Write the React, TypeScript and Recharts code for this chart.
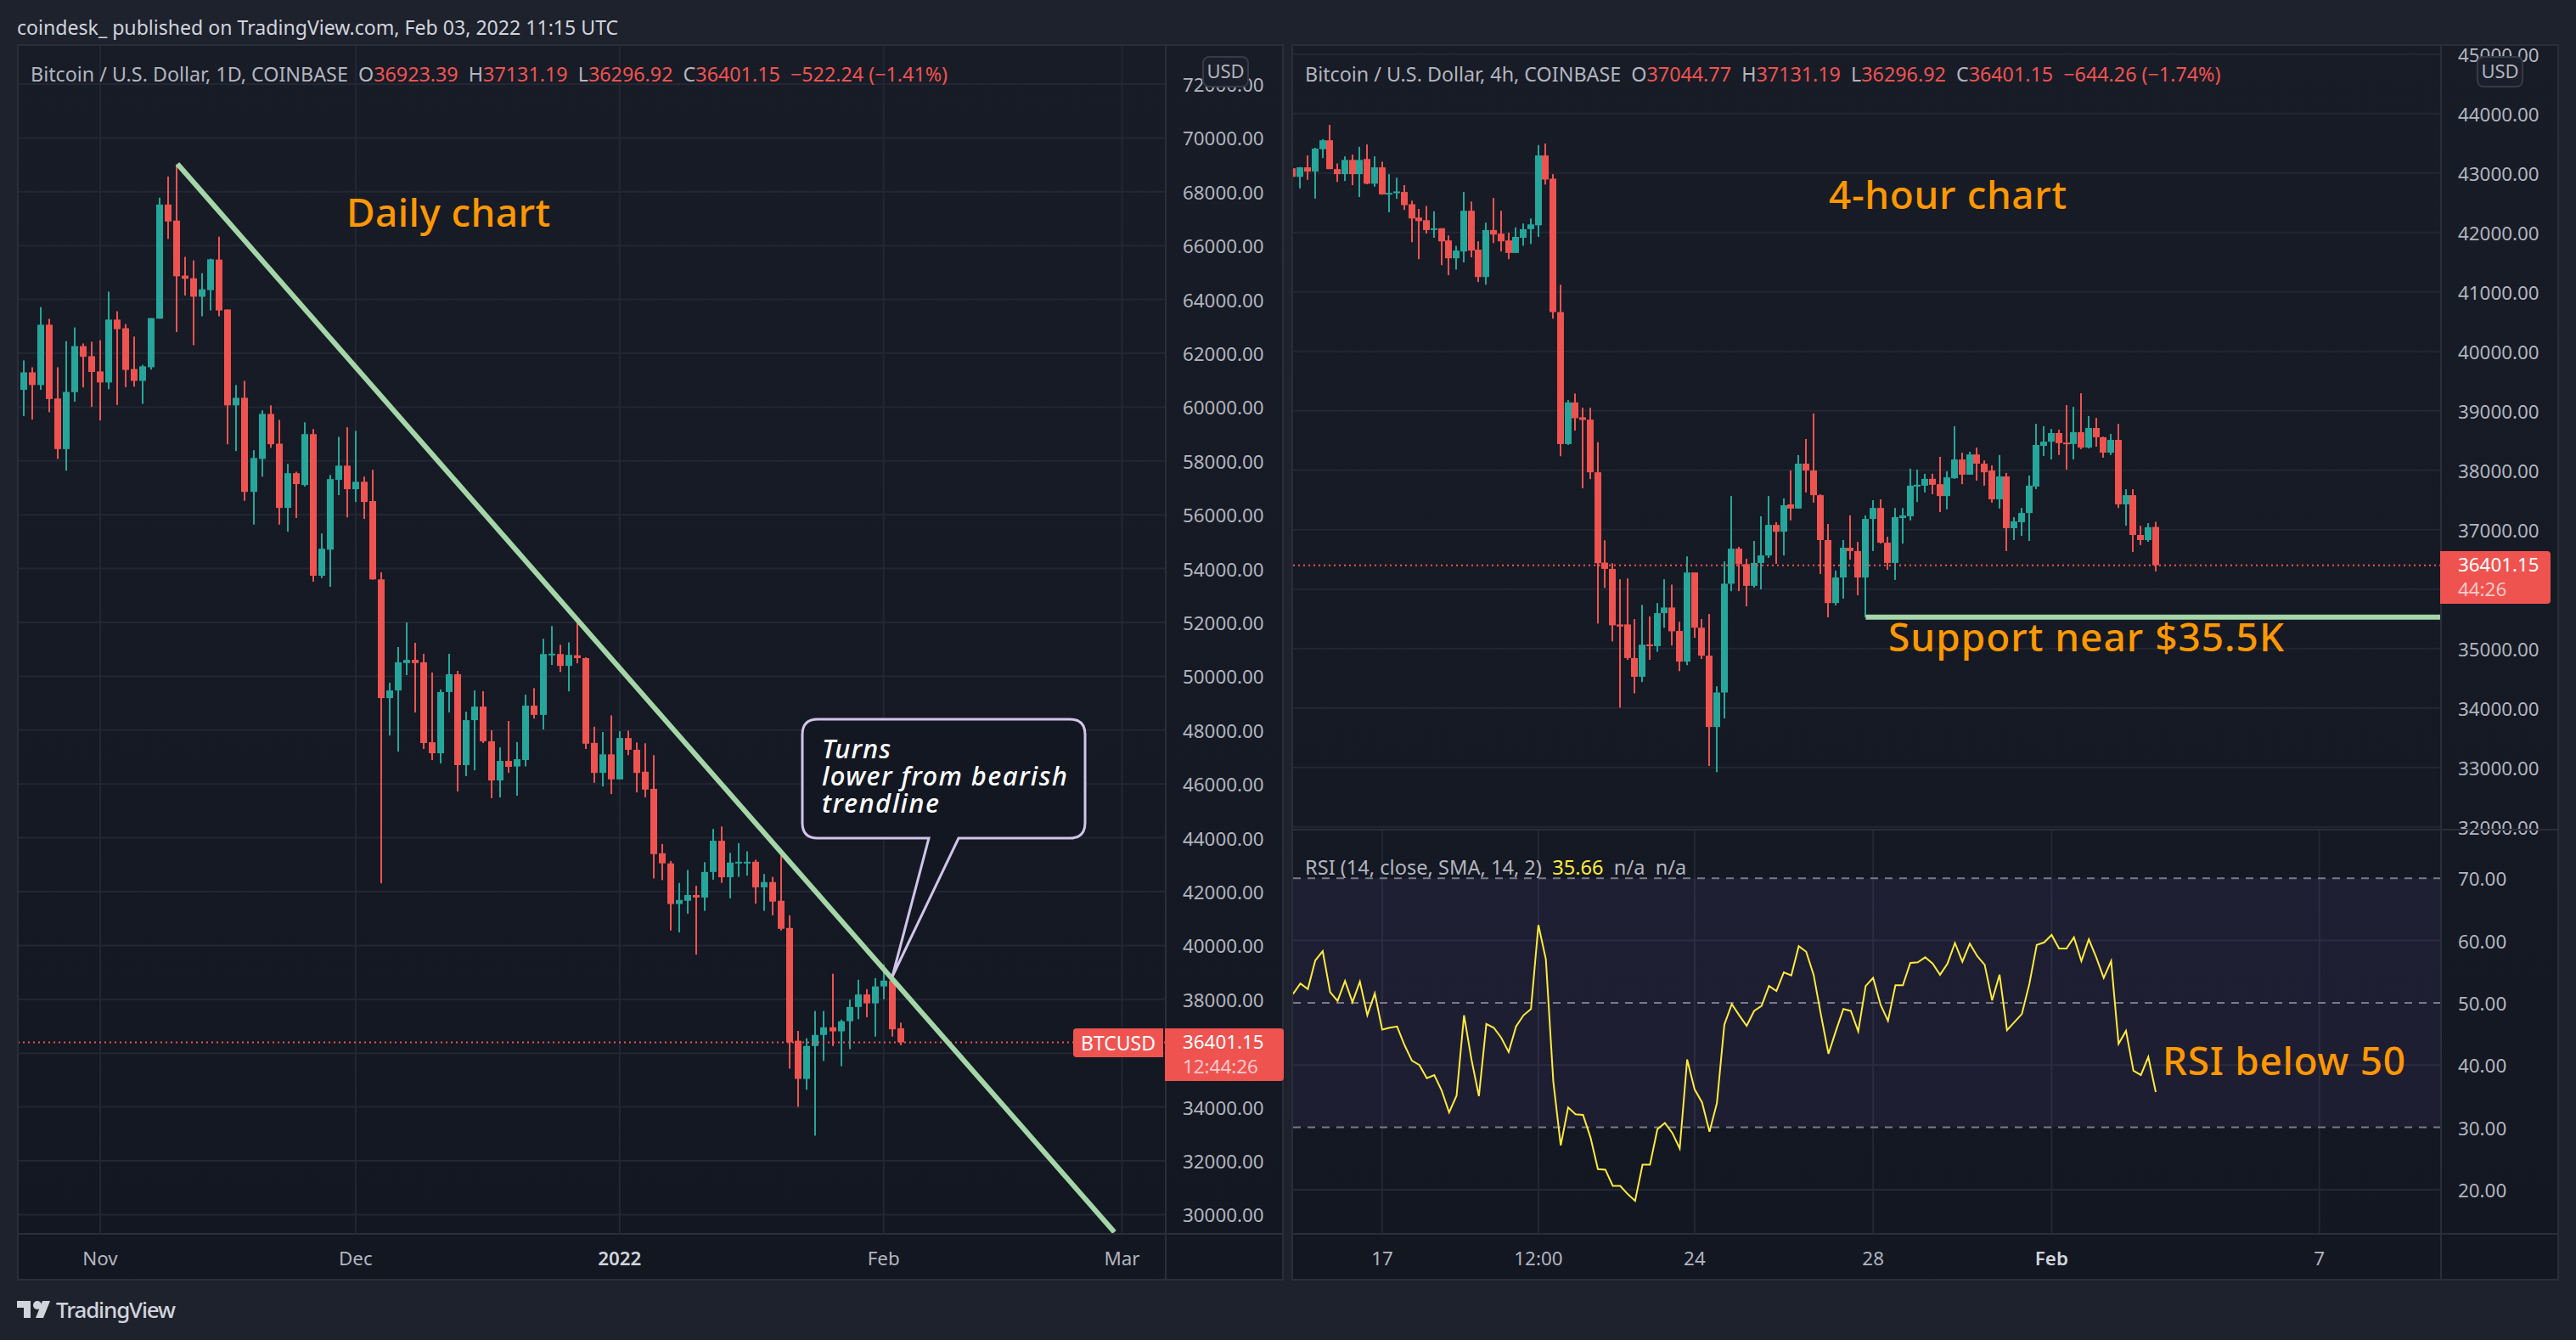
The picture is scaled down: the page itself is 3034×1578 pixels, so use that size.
import { Bar, CartesianGrid, ComposedChart, Line, ReferenceArea, ReferenceLine, XAxis, YAxis } from 'recharts';

const FONT = '"Noto Sans", sans-serif';
const UP = '#26a69a';
const DOWN = '#ef5350';
const GRID = '#232733';
const BORDER = '#2a2e39';
const AXIS_TEXT = '#b2b5be';
const GREEN_LINE = '#a5d6a7';
const ORANGE = '#ff9800';

// Daily candles, first bar is Oct 22 (day -10 from Nov 1)
const dailyFirstDay = -10;
const dailyOpen = [
  62210, 60640, 61290, 60820, 63060, 60320, 58440, 60555, 62265, 61890,
  61325, 60915, 63250, 62930, 61415, 60975, 61480, 63285, 67525, 66930,
  64885, 64785, 64100, 64345, 65480, 63625, 60065, 60345, 56850, 58075,
  59745, 58640, 56255, 57545, 57105, 58995, 53735, 54705, 57295, 57825,
  56950, 57225, 56510, 53600, 49190, 49475, 50490, 50610, 50520, 47550,
  47140, 49415, 50075, 46700, 48370, 48875, 47585, 46130, 46855, 46650,
  46890, 48910, 48565, 50780, 50825, 50385, 50780, 50675, 47525, 46410,
  47100, 46170, 47705, 47270, 46455, 45820, 43425, 43050, 41540, 41660,
  41875, 41780, 42730, 43890, 42535, 43050, 43065, 43110, 42160, 42355,
  41660, 40650, 36460, 35045, 36265, 36675, 36960, 36810, 37185, 37715,
  38180, 37850, 38480, 38695, 36923.39,
];
const dailyHigh = [
  62210, 61735, 61480, 63715, 63280, 61480, 62450, 62960, 62365, 62430,
  62485, 64290, 63560, 63085, 62620, 61570, 63305, 67780, 68565, 69015,
  65580, 65450, 64975, 65515, 66330, 63625, 60820, 60975, 58400, 59880,
  60065, 59525, 57890, 57600, 59435, 59185, 55305, 57480, 58895, 59250,
  59115, 57415, 57670, 53865, 49760, 51085, 52000, 51245, 50835, 50140,
  49510, 50835, 50200, 48685, 49475, 49445, 47995, 47360, 48340, 47555,
  49315, 49560, 51395, 51865, 51170, 51260, 52075, 50705, 48125, 47930,
  48550, 47960, 47975, 47540, 47510, 47070, 43770, 43140, 42325, 42805,
  42220, 43095, 44330, 44420, 43440, 43800, 43500, 43185, 42655, 42550,
  43485, 41120, 36825, 36555, 37565, 37565, 38950, 37245, 37985, 38725,
  38375, 38785, 39295, 38890, 37131.19,
];
const dailyLow = [
  60640, 59670, 59535, 60640, 59810, 58075, 57635, 60200, 60730, 60010,
  59505, 60665, 60080, 60740, 60760, 60120, 61390, 63285, 66245, 62785,
  64145, 62300, 63370, 63590, 63370, 58620, 58365, 56520, 55635, 57415,
  58485, 55635, 55370, 55880, 57050, 53515, 53645, 53325, 56730, 55900,
  56475, 55845, 53590, 42310, 47800, 47205, 50045, 48655, 47300, 46890,
  46760, 48655, 45720, 46290, 46510, 47520, 45470, 45500, 46415, 45565,
  46650, 48430, 48020, 50420, 50160, 49440, 50480, 47300, 46045, 45910,
  45625, 46170, 47070, 45685, 45505, 42490, 42430, 40560, 40485, 41180,
  39660, 41285, 42445, 42325, 41750, 42550, 42595, 41555, 41285, 41120,
  40560, 35425, 34005, 34640, 32935, 35710, 36265, 35515, 36145, 37260,
  37335, 36615, 38000, 36615, 36296.92,
];
const dailyClose = [
  60640, 61290, 60820, 63060, 60300, 58440, 60565, 62265, 61870, 61305,
  60915, 63250, 62895, 61380, 60975, 61515, 63305, 67525, 66895, 64860,
  64765, 64100, 64375, 65490, 63590, 60065, 60345, 56850, 58110, 59745,
  58620, 56255, 57545, 57140, 58995, 53735, 54740, 57325, 57825, 56950,
  57225, 56475, 53600, 49190, 49475, 50520, 50610, 50490, 47520, 47140,
  49415, 50075, 46700, 48370, 48875, 47585, 46130, 46855, 46635, 46920,
  48910, 48565, 50825, 50840, 50385, 50795, 50675, 47495, 46410, 47100,
  46170, 47705, 47270, 46410, 45790, 43395, 43050, 41540, 41690, 41875,
  41780, 42730, 43890, 42535, 43080, 43110, 43110, 42160, 42355, 41630,
  40620, 36400, 35045, 36265, 36675, 36960, 36810, 37185, 37715, 38180,
  37850, 38480, 38695, 36885, 36401.15,
];
const dailyPriceTicks = [
  30000, 32000, 34000, 36000, 38000, 40000, 42000, 44000, 46000, 48000, 50000,
  52000, 54000, 56000, 58000, 60000, 62000, 64000, 66000, 68000, 70000, 72000,
];
const dailyTimeTicks = [0, 30, 61, 92, 120];
const dailyTimeLabels = ['Nov', 'Dec', '2022', 'Feb', 'Mar'];
const trendDays = [9.07, 119.1];
const trendPrices = [69035, 29350];

// 4-hour candles, bar index counted from Jan 17 00:00
const fourHourFirstBar = -12;
const fourHourOpen = [
  43080, 42935, 43095, 43025, 43400, 43550, 43065, 42980, 43220, 42980,
  43235, 42820, 43095, 42640, 42660, 42680, 42475, 42250, 42205, 42040,
  42070, 41865, 41565, 41680, 42365, 41710, 41250, 42040, 41980, 41865,
  41655, 41910, 42055, 42120, 43295, 42905, 40660, 38440, 39140, 38890,
  38850, 37965, 36445, 36340, 35405, 35405, 34840, 34525, 35070, 35040,
  35595, 35690, 35295, 34780, 36280, 35350, 34880, 33680, 34260, 36090,
  36680, 36420, 36055, 36440, 36565, 37080, 36965, 37425, 37355, 38110,
  37995, 37580, 36825, 35765, 36195, 36695, 36640, 36195, 37180, 37365,
  36780, 36440, 37195, 37225, 37725, 37740, 37855, 37765, 37565, 37865,
  38180, 37925, 38265, 38110, 37995, 37510, 37895, 37025, 37125, 37280,
  37725, 38410, 38480, 38625, 38465, 38440, 38640, 38380, 38710, 38555,
  38295, 38510, 37425, 37580, 36910, 36825, 37044.77,
];
const fourHourHigh = [
  43175, 43100, 43295, 43425, 43570, 43810, 43160, 43280, 43310, 43440,
  43480, 43280, 43190, 42980, 42920, 42795, 42535, 42395, 42445, 42355,
  42070, 41950, 41775, 42680, 42520, 41850, 42165, 42580, 42365, 41995,
  42085, 42150, 42235, 43470, 43495, 42980, 41120, 39180, 39290, 39050,
  39050, 38470, 36820, 36435, 36165, 36180, 35495, 35735, 35540, 35765,
  36165, 36075, 35450, 36550, 36280, 35495, 35580, 34365, 36465, 37565,
  36710, 36510, 36810, 37225, 37565, 37125, 37525, 37995, 38255, 38525,
  38955, 37595, 37095, 36310, 36825, 37240, 36795, 37240, 37495, 37510,
  36880, 37365, 37365, 38025, 38010, 37940, 37940, 38225, 37980, 38740,
  38295, 38310, 38380, 38165, 38080, 38255, 37955, 37210, 37365, 37910,
  38780, 38740, 38695, 38680, 39095, 39065, 39295, 38910, 38880, 38565,
  38610, 38780, 37680, 37680, 37065, 37110, 37131.19,
];
const fourHourLow = [
  42885, 42740, 42885, 42570, 43250, 43065, 42850, 42865, 42795, 42595,
  42810, 42770, 42635, 42340, 42565, 42380, 41835, 41550, 41980, 41910,
  41450, 41280, 41375, 41495, 41580, 41165, 41120, 41820, 41680, 41550,
  41655, 41775, 41805, 41925, 42805, 40550, 38235, 38425, 38665, 37695,
  37850, 35420, 36020, 35120, 34005, 34810, 34245, 34435, 34810, 34945,
  35350, 35050, 34620, 34720, 35180, 34825, 33025, 32920, 33825, 35965,
  35965, 35710, 36025, 35995, 36525, 36425, 36565, 37155, 37355, 37625,
  37455, 36255, 35525, 35725, 35840, 36495, 35895, 35525, 36640, 36765,
  36325, 36155, 36765, 37155, 37465, 37625, 37595, 37295, 37340, 37855,
  37765, 37925, 37825, 37740, 37455, 37355, 36640, 36825, 36895, 36810,
  37680, 38240, 38180, 38255, 38010, 38180, 38355, 38365, 38395, 38210,
  38255, 37365, 37065, 36625, 36740, 36795, 36296.92,
];
const fourHourClose = [
  42935, 43095, 43025, 43410, 43550, 43065, 42980, 43220, 42980, 43220,
  42820, 43095, 42640, 42665, 42690, 42460, 42235, 42190, 42040, 42070,
  41850, 41565, 41695, 42365, 41695, 41250, 42040, 41965, 41850, 41655,
  41925, 42055, 42135, 43295, 42890, 40660, 38440, 39140, 38875, 38845,
  37965, 36435, 36340, 35390, 35370, 34840, 34525, 35065, 35040, 35595,
  35690, 35290, 34780, 36280, 35350, 34880, 33680, 34260, 36090, 36680,
  36420, 36055, 36440, 36565, 37080, 36965, 37410, 37355, 38110, 37995,
  37580, 36825, 35765, 36195, 36695, 36640, 36195, 37180, 37365, 36780,
  36440, 37210, 37240, 37740, 37755, 37855, 37755, 37565, 37880, 38180,
  37925, 38265, 38110, 37965, 37510, 37895, 37025, 37140, 37280, 37740,
  38425, 38480, 38625, 38455, 38440, 38640, 38380, 38710, 38555, 38295,
  38510, 37425, 37580, 36910, 36825, 37040, 36401.15,
];
const fourHourPriceTicks = [
  32000, 33000, 34000, 35000, 36000, 37000, 38000, 39000, 40000, 41000, 42000,
  43000, 44000, 45000,
];
const fourHourTimeTicks = [0, 21, 42, 66, 90, 126];
const fourHourTimeLabels = ['17', '12:00', '24', '28', 'Feb', '7'];
const supportBars = [65, 142.35];
const supportPrice = 35529;

const rsiValues = [
  51.4, 53.1, 52.2, 56.8, 58.3, 51.7, 50.3, 53.5, 50.1, 53.4,
  48.0, 51.5, 45.7, 46.0, 46.2, 43.2, 40.7, 40.0, 37.9, 38.4,
  35.9, 32.4, 35.1, 48.0, 40.9, 35.0, 46.6, 46.0, 44.4, 42.1,
  46.2, 48.0, 49.0, 62.5, 57.0, 37.4, 27.1, 33.2, 32.1, 32.0,
  28.4, 23.3, 23.2, 20.6, 20.6, 19.3, 18.2, 24.0, 24.0, 29.7,
  30.7, 29.1, 26.6, 40.9, 36.1, 34.0, 29.3, 33.9, 46.5, 49.8,
  48.0, 46.3, 48.7, 49.5, 52.7, 51.9, 54.9, 54.4, 59.1, 58.2,
  54.5, 48.0, 41.8, 45.5, 49.0, 48.7, 45.4, 52.7, 54.0, 49.7,
  47.1, 52.8, 52.8, 56.4, 56.5, 57.3, 56.3, 54.5, 56.3, 59.6,
  56.6, 59.5, 57.5, 56.1, 50.4, 54.5, 45.6, 46.9, 48.2, 53.0,
  59.3, 59.7, 60.9, 58.7, 58.7, 60.5, 56.7, 60.2, 57.3, 54.0,
  56.7, 43.4, 45.5, 39.1, 38.4, 41.3, 35.66,
];
const rsiTicks = [20, 30, 40, 50, 60, 70];
const rsiGridLevels = [20, 40, 60];
const rsiDashedLevels = [30, 50, 70];

const lastPrice = 36401.15;
// this tick sits under the last price tag, the grid line stays but the label is dropped
const hiddenPriceLabel = 36000;

const makeCandles = (first: number, open: number[], high: number[], low: number[], close: number[]) =>
  open.map((o, i) => ({
    x: first + i,
    rising: close[i] >= o,
    wick: [low[i], high[i]],
    body: [Math.min(o, close[i]), Math.max(o, close[i])],
  }));

const dailyRows = makeCandles(dailyFirstDay, dailyOpen, dailyHigh, dailyLow, dailyClose);
const fourHourRows = makeCandles(fourHourFirstBar, fourHourOpen, fourHourHigh, fourHourLow, fourHourClose);
const rsiRows = rsiValues.map((rsi, i) => ({ x: fourHourFirstBar + i, rsi }));

const CandlePart = (props: any) => {
  const { x, y, width, height, payload } = props;
  const top = Math.min(y, y + height);
  return (
    <rect
      x={Math.round(x)}
      y={top}
      width={width}
      height={Math.max(Math.abs(height), 2)}
      fill={payload.rising ? UP : DOWN}
    />
  );
};

const priceTick = { fill: AXIS_TEXT, fontSize: 22.4, fontFamily: FONT, dy: 1 };
const fixed2 = (v: number) => v.toFixed(2);
const priceLabel = (v: number) => (v === hiddenPriceLabel ? '' : v.toFixed(2));

const timeTick = (ticks: number[], labels: string[], boldLabel: string) => (props: any) => {
  const { x, y, payload } = props;
  const label = labels[ticks.indexOf(payload.value)];
  const bold = label === boldLabel;
  return (
    <text
      x={x}
      y={y + 29}
      textAnchor="middle"
      fontFamily={FONT}
      fontSize={22.4}
      fontWeight={bold ? 600 : 400}
      fill={bold ? '#d1d4dc' : AXIS_TEXT}
    >
      {label}
    </text>
  );
};

const Candles = ({ rows, xDomain, yDomain, yTicks, xTicks, tickRender, width, height, xHeight, extraBottom, children }: any) => (
  <ComposedChart width={width} height={height} data={rows} margin={{ top: 0, right: 0, bottom: extraBottom, left: 0 }}>
    <CartesianGrid xAxisId="wick" yAxisId="price" stroke={GRID} strokeWidth={2} />
    <XAxis
      xAxisId="wick"
      dataKey="x"
      type="number"
      domain={xDomain}
      allowDataOverflow
      ticks={xTicks}
      interval={0}
      tick={tickRender}
      height={xHeight}
      hide={!xHeight}
      axisLine={false}
      tickLine={false}
    />
    <XAxis xAxisId="body" dataKey="x" type="number" domain={xDomain} allowDataOverflow hide height={0} />
    <YAxis
      yAxisId="price"
      orientation="right"
      type="number"
      domain={yDomain}
      allowDataOverflow
      ticks={yTicks}
      interval={0}
      width={139}
      tick={priceTick}
      tickFormatter={priceLabel}
      tickSize={0}
      tickMargin={20}
      axisLine={false}
      tickLine={false}
    />
    <Bar xAxisId="wick" yAxisId="price" dataKey="wick" barSize={2} shape={CandlePart} isAnimationActive={false} />
    <Bar xAxisId="body" yAxisId="price" dataKey="body" barSize={8} shape={CandlePart} isAnimationActive={false} />
    <ReferenceLine xAxisId="wick" yAxisId="price" y={lastPrice} stroke={DOWN} strokeWidth={2} strokeDasharray="2 4" />
    {children}
  </ComposedChart>
);

const Box = ({ left, top, width, height, style, children }: any) => (
  <div style={{ position: 'absolute', left, top, width, height, ...style }}>{children}</div>
);

const Legend = ({ left, name, o, h, l, c, change }: any) => (
  <div
    style={{
      position: 'absolute',
      left,
      top: 72,
      fontFamily: FONT,
      fontSize: 23.3,
      lineHeight: '30px',
      color: AXIS_TEXT,
      whiteSpace: 'pre',
    }}
  >
    {name}
    {'  O'}<span style={{ color: DOWN }}>{o}</span>
    {'  H'}<span style={{ color: DOWN }}>{h}</span>
    {'  L'}<span style={{ color: DOWN }}>{l}</span>
    {'  C'}<span style={{ color: DOWN }}>{c}</span>
    <span style={{ color: DOWN }}>{'  ' + change}</span>
  </div>
);

const PriceTag = ({ left, top, width, height, rest }: any) => (
  <Box left={left} top={top} width={width} height={height} style={{ background: DOWN, fontFamily: FONT, fontSize: 22.4, borderRadius: '0 4px 4px 0' }}>
    <div style={{ position: 'absolute', left: 21, top: 1, color: '#fff', lineHeight: '30px' }}>36401.15</div>
    <div style={{ position: 'absolute', left: 21, top: 30, color: '#fbc9c8', lineHeight: '30px' }}>{rest}</div>
  </Box>
);

const UsdBox = ({ left }: any) => (
  <Box
    left={left}
    top={66}
    width={55}
    height={37}
    style={{
      background: '#1b1f2b',
      border: '2px solid #363a45',
      borderRadius: 8,
      boxSizing: 'border-box',
      color: AXIS_TEXT,
      fontFamily: FONT,
      fontSize: 22,
      textAlign: 'center',
      lineHeight: '31px',
    }}
  >
    USD
  </Box>
);

export default function App() {
  return (
    <div style={{ position: 'fixed', left: 0, top: 0, width: 3034, height: 1578, background: '#1e222d', overflow: 'hidden' }}>
      <Box left={20} top={53} width={1492} height={1455} style={{ background: 'linear-gradient(#181c27, #131722)' }} />
      <Box left={1521} top={53} width={1493} height={1455} style={{ background: 'linear-gradient(#181c27, #131722)' }} />

      <Box left={20} top={53} width={1492} height={1455}>
        <Candles
          rows={dailyRows}
          width={1492}
          height={1455}
          xHeight={55}
          extraBottom={0}
          xDomain={[-9.77, 125.13]}
          yDomain={[29287, 73451]}
          yTicks={dailyPriceTicks}
          xTicks={dailyTimeTicks}
          tickRender={timeTick(dailyTimeTicks, dailyTimeLabels, '2022')}
        >
          <ReferenceLine
            xAxisId="wick"
            yAxisId="price"
            segment={[
              { x: trendDays[0], y: trendPrices[0] },
              { x: trendDays[1], y: trendPrices[1] },
            ]}
            stroke={GREEN_LINE}
            strokeWidth={6}
          />
        </Candles>
      </Box>

      <Box left={1521} top={53} width={1493} height={944}>
        <Candles
          rows={fourHourRows}
          width={1493}
          height={944}
          xHeight={0}
          extraBottom={20}
          xDomain={[-12.21, 142.35]}
          yDomain={[31953, 45153]}
          yTicks={fourHourPriceTicks}
          xTicks={fourHourTimeTicks}
          tickRender={false}
        >
          <ReferenceLine
            xAxisId="wick"
            yAxisId="price"
            segment={[
              { x: supportBars[0], y: supportPrice },
              { x: supportBars[1], y: supportPrice },
            ]}
            stroke={GREEN_LINE}
            strokeWidth={6}
          />
        </Candles>
      </Box>

      <Box left={1521} top={977} width={1493} height={531}>
        <ComposedChart width={1493} height={531} data={rsiRows} margin={{ top: 0, right: 0, bottom: 0, left: 0 }}>
          <CartesianGrid stroke={GRID} strokeWidth={2} horizontalValues={rsiGridLevels} />
          <XAxis
            dataKey="x"
            type="number"
            domain={[-12.21, 142.35]}
            allowDataOverflow
            ticks={fourHourTimeTicks}
            interval={0}
            height={55}
            tick={timeTick(fourHourTimeTicks, fourHourTimeLabels, 'Feb')}
            axisLine={false}
            tickLine={false}
          />
          <YAxis
            orientation="right"
            type="number"
            domain={[12.9, 77.8]}
            allowDataOverflow
            ticks={rsiTicks}
            interval={0}
            width={139}
            tick={priceTick}
            tickFormatter={fixed2}
            tickSize={0}
            tickMargin={20}
            axisLine={false}
            tickLine={false}
          />
          <ReferenceArea y1={30} y2={70} fill="#7e57c2" fillOpacity={0.1} stroke="none" />
          {rsiDashedLevels.map((level) => (
            <ReferenceLine key={level} y={level} stroke="#787b86" strokeWidth={2} strokeDasharray="9 8" />
          ))}
          <Line dataKey="rsi" type="linear" stroke="#ffeb3b" strokeWidth={2} dot={false} isAnimationActive={false} />
        </ComposedChart>
      </Box>

      {/* pane borders and axis separators */}
      <Box left={20} top={52} width={1492} height={1456} style={{ border: `2px solid ${BORDER}`, boxSizing: 'border-box' }} />
      <Box left={1521} top={52} width={1493} height={1456} style={{ border: `2px solid ${BORDER}`, boxSizing: 'border-box' }} />
      <Box left={1372} top={53} width={2} height={1455} style={{ background: BORDER }} />
      <Box left={2874} top={53} width={2} height={1455} style={{ background: BORDER }} />
      <Box left={20} top={1452} width={1492} height={2} style={{ background: BORDER }} />
      <Box left={1521} top={1452} width={1493} height={2} style={{ background: BORDER }} />
      <Box left={1521} top={976} width={1493} height={2} style={{ background: BORDER }} />

      <div style={{ position: 'absolute', left: 20, top: 17, fontFamily: FONT, fontSize: 23.1, lineHeight: '30px', color: '#d1d4dc' }}>
        coindesk_ published on TradingView.com, Feb 03, 2022 11:15 UTC
      </div>
      <Legend left={36} name="Bitcoin / U.S. Dollar, 1D, COINBASE" o="36923.39" h="37131.19" l="36296.92" c="36401.15" change="−522.24 (−1.41%)" />
      <Legend left={1537} name="Bitcoin / U.S. Dollar, 4h, COINBASE" o="37044.77" h="37131.19" l="36296.92" c="36401.15" change="−644.26 (−1.74%)" />
      <div style={{ position: 'absolute', left: 1537, top: 1006, fontFamily: FONT, fontSize: 23.6, lineHeight: '30px', color: AXIS_TEXT, whiteSpace: 'pre' }}>
        {'RSI (14, close, SMA, 14, 2)  '}<span style={{ color: '#ffeb3b' }}>35.66</span>{'  n/a  n/a'}
      </div>
      <UsdBox left={1416} />
      <UsdBox left={2917} />

      <Box left={1264} top={1211} width={106} height={34} style={{ background: DOWN, borderRadius: '4px 0 0 4px', color: '#fff', fontFamily: FONT, fontSize: 23, lineHeight: '34px', textAlign: 'center' }}>
        BTCUSD
      </Box>
      <PriceTag left={1372} top={1211} width={140} height={62} rest="12:44:26" />
      <PriceTag left={2874} top={649} width={130} height={62} rest="44:26" />

      <svg width={3034} height={1578} style={{ position: 'absolute', left: 0, top: 0 }}>
        <g fill={ORANGE} fontFamily={FONT} fontSize={46} fontWeight={500}>
          <text x={408} y={267} textLength={240}>Daily chart</text>
          <text x={2154} y={246} textLength={280}>4-hour chart</text>
          <text x={2224} y={767} textLength={466}>Support near $35.5K</text>
          <text x={2547} y={1266} textLength={286}>RSI below 50</text>
        </g>
        <path
          d="M963 847 H1260 Q1278 847 1278 865 V969 Q1278 987 1260 987 H1129 L1051 1150 L1094 987 H963 Q945 987 945 969 V865 Q945 847 963 847 Z"
          fill="#131722"
          stroke="#d1c4e9"
          strokeWidth={3}
        />
        <g fill="#fff" fontFamily={FONT} fontSize={31} fontStyle="italic" fontWeight={500}>
          <text x={968} y={893} textLength={81}>Turns</text>
          <text x={968} y={925} textLength={289}>lower from bearish</text>
          <text x={968} y={957} textLength={138}>trendline</text>
        </g>
        <g fill="#d1d4dc">
          <path d="M20 1532 H36 V1552 H28 V1540 H20 Z" />
          <circle cx={44} cy={1537} r={5} />
          <path d="M50 1532 H59 L51 1552 H42 Z" />
          <text x={66} y={1552} fontFamily={FONT} fontSize={26} fontWeight={500} textLength={141}>TradingView</text>
        </g>
      </svg>
    </div>
  );
}
